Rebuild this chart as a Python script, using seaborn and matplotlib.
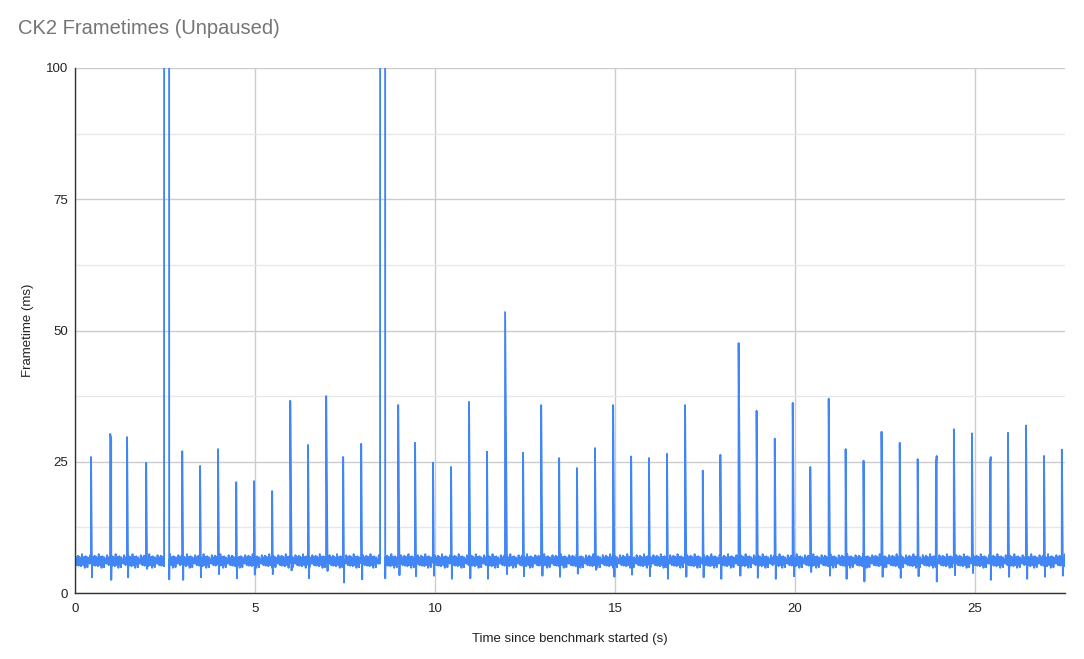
import numpy as np
import pandas as pd
import matplotlib
matplotlib.use("Agg")
import matplotlib.pyplot as plt
import seaborn as sns

# spike frames (time of the spike in s, frametime in ms)
SPIKE_TIMES = [0.44, 0.97, 1.44, 1.97, 2.47, 2.97, 3.47, 3.97, 4.47, 4.97,
               5.47, 5.97, 6.47, 6.97, 7.44, 7.94, 8.47, 8.97, 9.44, 9.94,
               10.44, 10.94, 11.44, 11.94, 12.44, 12.94, 13.44, 13.94, 14.44, 14.94,
               15.44, 15.94, 16.44, 16.94, 17.43, 17.92, 18.43, 18.93, 19.43, 19.93,
               20.42, 20.93, 21.40, 21.90, 22.40, 22.90, 23.40, 23.91, 24.41, 24.91,
               25.41, 25.91, 26.41, 26.91, 27.41]
SPIKE_PEAKS = [25.9, 30.3, 29.7, 24.8, 140, 27.0, 24.2, 27.4, 21.1, 21.3,
               19.4, 36.6, 28.2, 37.5, 25.9, 28.4, 140, 35.8, 28.6, 24.8,
               24.0, 36.4, 26.9, 53.5, 26.7, 35.8, 25.7, 23.8, 27.6, 35.8,
               26.0, 25.7, 26.5, 35.8, 23.3, 26.3, 47.6, 34.7, 29.4, 36.2,
               24.0, 37.0, 27.4, 25.2, 30.7, 28.6, 25.5, 24.7, 31.2, 30.4,
               25.0, 30.5, 31.9, 26.1, 27.3]
# second long frame right after a few spikes (0 = none)
SPIKE_SECOND = [0, 29.5, 0, 0, 130, 0, 0, 0, 0, 0,
                0, 0, 0, 0, 0, 0, 130, 0, 0, 0,
                0, 0, 0, 0, 0, 0, 0, 0, 0, 0,
                0, 0, 0, 0, 0, 0, 0, 0, 0, 0,
                0, 0, 0, 0, 0, 0, 0, 26.1, 0, 0,
                25.9, 0, 0, 0, 0]
# short frame that follows each spike
SPIKE_DIPS = [3.0, 2.5, 3.0, 4.6, 2.6, 2.5, 3.0, 3.6, 2.8, 3.5,
              3.6, 4.3, 2.8, 4.2, 2.0, 2.6, 2.8, 3.4, 3.2, 3.3,
              2.7, 2.8, 2.7, 3.6, 3.2, 3.3, 3.1, 3.7, 4.4, 3.1,
              3.5, 3.2, 2.7, 3.1, 3.0, 2.7, 3.3, 2.9, 2.7, 3.2,
              4.0, 3.3, 2.7, 2.2, 3.1, 2.9, 3.2, 2.2, 3.4, 3.8,
              2.5, 3.1, 2.7, 3.1, 3.3]
# typical ripple of the normal frames between spikes (ms)
BASE_JITTER = [6.1, 5.6, 6.4, 5.9, 6.8, 5.3, 6.2, 6.0, 5.7, 6.6, 5.5, 6.3, 7.1,
               5.8, 6.0, 5.2, 6.5, 6.1, 5.9, 6.9, 5.4, 6.2, 6.0, 5.6, 6.7, 5.8,
               6.3, 5.1, 6.4, 6.0, 5.7, 7.4, 5.5, 6.1, 6.2, 5.9, 6.6, 5.3, 6.0,
               6.4, 5.8, 6.9, 5.6, 6.2, 4.8, 6.5, 6.1, 5.9, 7.0, 5.7, 6.3, 6.0,
               5.4, 6.6, 5.9, 6.2, 4.9, 6.8, 6.0, 5.7, 6.3, 6.1, 5.8, 6.0, 6.2,
               5.9, 6.4, 5.6, 6.1, 7.2, 5.8, 6.0]
END_TIME = 27.5

# build the frame log
frames = []
t = 0.0
j = 0


def add_base():
    global t, j
    ms = BASE_JITTER[j % len(BASE_JITTER)]
    j += 1
    t += ms / 1000.0
    frames.append((t, ms))


for ts, peak, second, dip in zip(SPIKE_TIMES, SPIKE_PEAKS, SPIKE_SECOND, SPIKE_DIPS):
    while t < ts:
        add_base()
    # the long frame is drawn where it starts, so the jump is straight up
    frames.append((t + 0.003, peak))
    t += peak / 1000.0
    if second:
        frames.append((t, second))
    t += dip / 1000.0
    frames.append((t, dip))
while t < END_TIME:
    add_base()

df = pd.DataFrame(frames, columns=["time", "frametime"])

sns.set_style("white")
plt.rcParams["font.family"] = ["Liberation Sans", "DejaVu Sans"]

fig = plt.figure(figsize=(10.84, 6.59), dpi=100)
ax = fig.add_axes([75 / 1084, 1 - 593 / 659, 990 / 1084, 525 / 659])

sns.lineplot(data=df, x="time", y="frametime", ax=ax, color="#4285F4",
             linewidth=1.35, estimator=None, sort=False, zorder=3)

ax.set_xlim(0, END_TIME)
ax.set_ylim(0, 100)
ax.set_yticks([0, 25, 50, 75, 100])
ax.set_yticks([12.5, 37.5, 62.5, 87.5], minor=True)
ax.set_xticks([0, 5, 10, 15, 20, 25])
ax.grid(True, which="major", color="#cccccc", linewidth=1, zorder=0)
ax.grid(True, which="minor", axis="y", color="#e8e8e8", linewidth=1, zorder=0)
ax.tick_params(axis="both", which="both", length=0, labelsize=9.5, colors="#222222")
ax.tick_params(axis="x", pad=7)
ax.tick_params(axis="y", pad=5)

for side in ["top", "right"]:
    ax.spines[side].set_visible(False)
for side in ["left", "bottom"]:
    ax.spines[side].set_color("#333333")
    ax.spines[side].set_linewidth(1)
    ax.spines[side].set_zorder(4)

ax.set_xlabel("Time since benchmark started (s)", fontsize=9.5, color="#222222", labelpad=13)
ax.set_ylabel("Frametime (ms)", fontsize=9.5, color="#222222", labelpad=8.5)

fig.text(18 / 1084, 1 - 29 / 659, "CK2 Frametimes (Unpaused)", fontsize=14.5,
         color="#757575", va="center", ha="left")

fig.savefig("out.png", dpi=100)
